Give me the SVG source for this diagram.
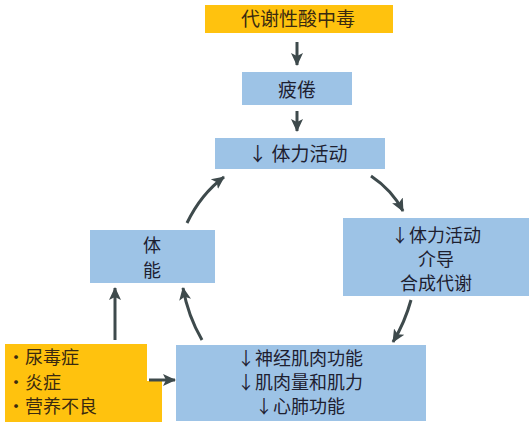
<svg xmlns="http://www.w3.org/2000/svg" width="531" height="428" viewBox="0 0 531 428">
<defs>
<style>
.t{font-family:"Noto Sans CJK SC","Noto Sans",sans-serif;font-size:19px;fill:#1d2030;text-anchor:middle}
.m{font-size:18px}
.o{fill:#FFC20E}
.b{fill:#9DC3E6}
.ot{font-family:"Noto Sans CJK SC","Noto Sans",sans-serif;font-size:18px;fill:#3a2a10}
.c{fill:none;stroke:#3e4a4c;stroke-width:3}
</style>
<marker id="ah" markerUnits="userSpaceOnUse" markerWidth="14" markerHeight="14" viewBox="0 0 14 14" refX="12" refY="7" orient="auto">
<path d="M0,1 L13,7 L0,13 L3,7 Z" fill="#3e4a4c"/>
</marker>
</defs>
<rect width="531" height="428" fill="#ffffff"/>
<g id="n-acidosis"><rect class="o" x="205" y="5" width="188" height="28"/><text class="ot" x="298" y="26" text-anchor="middle" style="font-size:19px">代谢性酸中毒</text></g>
<g id="n-fatigue"><rect class="b" x="242" y="72" width="110" height="33"/><text class="t" x="297" y="97">疲倦</text></g>
<g id="n-activity"><rect class="b" x="215" y="138" width="170" height="31"/><text class="t" x="298" y="161">↓ 体力活动</text></g>
<g id="n-fitness"><rect class="b" x="90" y="230" width="125" height="53"/><text class="t m" x="152" y="252">体</text><text class="t m" x="152" y="277">能</text></g>
<g id="n-anabolic"><rect class="b" x="343" y="218" width="186" height="78"/><text class="t m" x="436" y="242">↓体力活动</text><text class="t m" x="436" y="266">介导</text><text class="t m" x="436" y="290">合成代谢</text></g>
<g id="n-causes"><path class="o" d="M5 344 H147 V381 H162 V422 H5 Z"/><text class="ot" x="7" y="364">·尿毒症</text><text class="ot" x="7" y="389">·炎症</text><text class="ot" x="7" y="413">·营养不良</text></g>
<g id="n-function"><rect class="b" x="176" y="345" width="250" height="76"/><text class="t m" x="300" y="365">↓神经肌肉功能</text><text class="t m" x="300" y="389">↓肌肉量和肌力</text><text class="t m" x="300" y="413">↓心肺功能</text></g>
<g id="connectors">
<path class="c" d="M297 42 V65" marker-end="url(#ah)"/>
<path class="c" d="M297 111 V131" marker-end="url(#ah)"/>
<path class="c" d="M371 176 Q392 190 403 211" marker-end="url(#ah)"/>
<path class="c" d="M411 300 Q405 322 393 342" marker-end="url(#ah)"/>
<path class="c" d="M202 340 Q188 316 183 288" marker-end="url(#ah)"/>
<path class="c" d="M187 223 Q201 194 224 177" marker-end="url(#ah)"/>
<path class="c" d="M115 340 V288" marker-end="url(#ah)"/>
<path class="c" d="M149 380 H175" marker-end="url(#ah)"/>
</g>
</svg>
